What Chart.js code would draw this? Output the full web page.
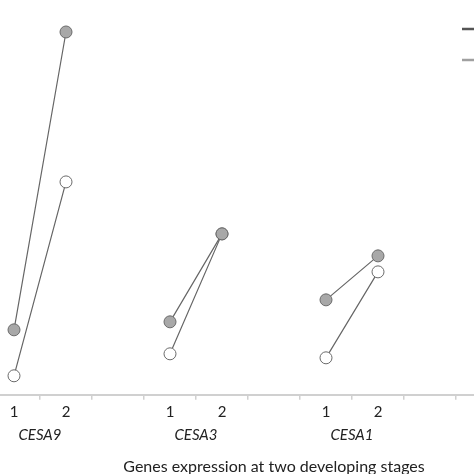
<!DOCTYPE html>
<html>
<head>
<meta charset="utf-8">
<script src="https://cdn.jsdelivr.net/npm/chart.js@4.4.1/dist/chart.umd.min.js"></script>
<style>
  html, body { margin: 0; padding: 0; background: #fff; overflow: hidden; width: 474px; height: 474px; }
  #wrap { position: absolute; left: -12px; top: 0; width: 572px; height: 478px; }
</style>
</head>
<body>
<div id="wrap"><canvas id="geneChart"></canvas></div>
<script>
// Stage labels on the x axis (blank slots separate the genes)
const stageLabels = ['1', '2', '', '1', '2', '', '1', '2', '', '', ''];
const genes = ['CESA9', 'CESA3', 'CESA1'];
const seriesNames = ['Series 1', 'Series 2'];

// Relative expression values
const filledValues = [0.65, 3.63, null, 0.73, 1.61, null, 0.95, 1.39, null, null, null];
const openValues = [0.19, 2.13, null, 0.41, 1.61, null, 0.37, 1.23, null, null, null];

const axisFont = { family: 'Lato', size: 15 };
const legendColors = ['#555555', '#a0a0a0'];

// legend sits inside the plot area at top right, mostly cropped
const sideLegend = {
    id: 'sideLegend',
    afterDraw(chart) {
        const ctx = chart.ctx;
        ctx.save();
        chart.data.datasets.forEach((ds, i) => {
            const x = chart.width - 98;
            const y = 29 + i * 31;
            ctx.strokeStyle = legendColors[i];
            ctx.lineWidth = 2.5;
            ctx.beginPath();
            ctx.moveTo(x, y);
            ctx.lineTo(x + 30, y);
            ctx.stroke();
            ctx.fillStyle = '#222';
            ctx.font = '15px Lato';
            ctx.textBaseline = 'middle';
            ctx.fillText(ds.label, x + 36, y);
        });
        ctx.restore();
    }
};

function initChart() {
    const ctx = document.getElementById('geneChart').getContext('2d');

    new Chart(ctx, {
    type: 'line',
    data: {
        labels: stageLabels,
        datasets: [{
        label: seriesNames[0],
        data: filledValues,
        borderColor: '#666666',
        borderWidth: 1.2,
        pointRadius: 6,
        pointBorderWidth: 1,
        pointBackgroundColor: '#a8a8a8',
        pointBorderColor: '#6a6a6a',
        spanGaps: false
        }, {
        label: seriesNames[1],
        data: openValues,
        borderColor: '#666666',
        borderWidth: 1.2,
        pointRadius: 6,
        pointBorderWidth: 1,
        pointBackgroundColor: '#ffffff',
        pointBorderColor: '#6a6a6a',
        spanGaps: false
        }]
    },
    options: {
        responsive: true,
        maintainAspectRatio: false,
        animation: false,
        layout: { autoPadding: false, padding: 0 },
        plugins: {
        legend: { display: false },
        tooltip: { enabled: false }
        },
        scales: {
        x: {
            type: 'category',
            offset: true,
            weight: 0,
            grid: { drawOnChartArea: false, offset: true, color: '#d0d0d0', tickLength: 5, lineWidth: 1.5 },
            border: { color: '#d0d0d0', width: 2 },
            ticks: { color: '#222', font: axisFont, padding: 3, maxRotation: 0, autoSkip: false }
        },
        x2: {
            type: 'linear',
            position: 'bottom',
            weight: 1,
            min: -0.5,
            max: stageLabels.length - 0.5,
            grid: { display: false },
            border: { display: false },
            afterBuildTicks: (scale) => {
            scale.ticks = genes.map((g, i) => ({ value: i * 3 + 0.5 }));
            },
            ticks: {
            color: '#222',
            font: { family: 'Lato', size: 15, style: 'italic' },
            padding: -6,
            maxRotation: 0,
            autoSkip: false,
            callback: (v) => genes[Math.round((v - 0.5) / 3)]
            },
            title: {
            display: true,
            text: 'Genes expression at two developing stages',
            color: '#222',
            font: { family: 'Lato', size: 16 },
            padding: { top: 19, bottom: 2 }
            }
        },
        y: {
            display: false,
            min: 0,
            max: 3.95
        }
        }
    },
    plugins: [sideLegend]
    });
}

initChart();
</script>
</body>
</html>
